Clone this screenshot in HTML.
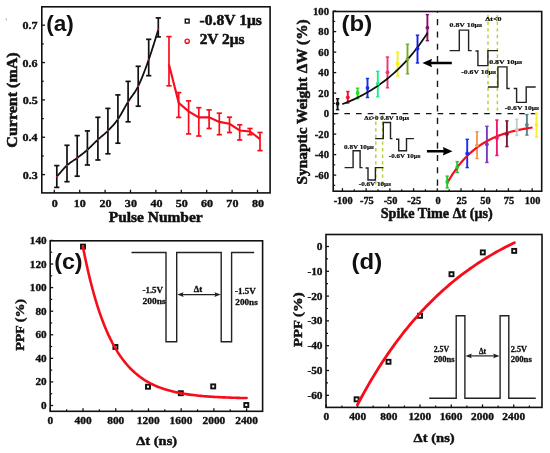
<!DOCTYPE html>
<html><head><meta charset="utf-8"><title>Figure</title>
<style>html,body{margin:0;padding:0;background:#fff;}svg{display:block;}</style></head>
<body><svg width="550" height="453" viewBox="0 0 550 453">
<rect x="0" y="0" width="550" height="453" fill="#fff"/>
<ellipse cx="6.3" cy="19.4" rx="0.6" ry="1.4" fill="#b4baba"/>
<rect x="41.8" y="6.8" width="228.3" height="186.1" fill="none" stroke="#111" stroke-width="1.6"/>
<line x1="41.8" y1="174.6" x2="45" y2="174.6" stroke="#111" stroke-width="1.3" />
<text transform="translate(22.63,178.6) scale(1.1600,1)" font-family="'Liberation Serif','Times New Roman',serif" font-size="10.4" font-weight="bold" fill="#111" stroke="#111" stroke-width="0.364" >0.3</text>
<line x1="41.8" y1="137.25" x2="45" y2="137.25" stroke="#111" stroke-width="1.3" />
<text transform="translate(22.44,141.25) scale(1.1600,1)" font-family="'Liberation Serif','Times New Roman',serif" font-size="10.4" font-weight="bold" fill="#111" stroke="#111" stroke-width="0.364" >0.4</text>
<line x1="41.8" y1="99.9" x2="45" y2="99.9" stroke="#111" stroke-width="1.3" />
<text transform="translate(22.66,103.9) scale(1.1600,1)" font-family="'Liberation Serif','Times New Roman',serif" font-size="10.4" font-weight="bold" fill="#111" stroke="#111" stroke-width="0.364" >0.5</text>
<line x1="41.8" y1="62.55" x2="45" y2="62.55" stroke="#111" stroke-width="1.3" />
<text transform="translate(22.57,66.55) scale(1.1600,1)" font-family="'Liberation Serif','Times New Roman',serif" font-size="10.4" font-weight="bold" fill="#111" stroke="#111" stroke-width="0.364" >0.6</text>
<line x1="41.8" y1="25.2" x2="45" y2="25.2" stroke="#111" stroke-width="1.3" />
<text transform="translate(22.51,29.2) scale(1.1600,1)" font-family="'Liberation Serif','Times New Roman',serif" font-size="10.4" font-weight="bold" fill="#111" stroke="#111" stroke-width="0.364" >0.7</text>
<line x1="41.8" y1="155.93" x2="43.8" y2="155.93" stroke="#111" stroke-width="1.2" />
<line x1="41.8" y1="118.58" x2="43.8" y2="118.58" stroke="#111" stroke-width="1.2" />
<line x1="41.8" y1="81.22" x2="43.8" y2="81.22" stroke="#111" stroke-width="1.2" />
<line x1="41.8" y1="43.87" x2="43.8" y2="43.87" stroke="#111" stroke-width="1.2" />
<line x1="54.3" y1="192.9" x2="54.3" y2="189.7" stroke="#111" stroke-width="1.3" />
<text transform="translate(51.68,206.6) scale(1.1600,1)" font-family="'Liberation Serif','Times New Roman',serif" font-size="10.4" font-weight="bold" fill="#111" stroke="#111" stroke-width="0.364" >0</text>
<line x1="79.7" y1="192.9" x2="79.7" y2="189.7" stroke="#111" stroke-width="1.3" />
<text transform="translate(73.81,206.6) scale(1.1600,1)" font-family="'Liberation Serif','Times New Roman',serif" font-size="10.4" font-weight="bold" fill="#111" stroke="#111" stroke-width="0.364" >10</text>
<line x1="105.1" y1="192.9" x2="105.1" y2="189.7" stroke="#111" stroke-width="1.3" />
<text transform="translate(99.44,206.6) scale(1.1600,1)" font-family="'Liberation Serif','Times New Roman',serif" font-size="10.4" font-weight="bold" fill="#111" stroke="#111" stroke-width="0.364" >20</text>
<line x1="130.5" y1="192.9" x2="130.5" y2="189.7" stroke="#111" stroke-width="1.3" />
<text transform="translate(124.87,206.6) scale(1.1600,1)" font-family="'Liberation Serif','Times New Roman',serif" font-size="10.4" font-weight="bold" fill="#111" stroke="#111" stroke-width="0.364" >30</text>
<line x1="155.9" y1="192.9" x2="155.9" y2="189.7" stroke="#111" stroke-width="1.3" />
<text transform="translate(150.42,206.6) scale(1.1600,1)" font-family="'Liberation Serif','Times New Roman',serif" font-size="10.4" font-weight="bold" fill="#111" stroke="#111" stroke-width="0.364" >40</text>
<line x1="181.3" y1="192.9" x2="181.3" y2="189.7" stroke="#111" stroke-width="1.3" />
<text transform="translate(175.66,206.6) scale(1.1600,1)" font-family="'Liberation Serif','Times New Roman',serif" font-size="10.4" font-weight="bold" fill="#111" stroke="#111" stroke-width="0.364" >50</text>
<line x1="206.7" y1="192.9" x2="206.7" y2="189.7" stroke="#111" stroke-width="1.3" />
<text transform="translate(201.09,206.6) scale(1.1600,1)" font-family="'Liberation Serif','Times New Roman',serif" font-size="10.4" font-weight="bold" fill="#111" stroke="#111" stroke-width="0.364" >60</text>
<line x1="232.1" y1="192.9" x2="232.1" y2="189.7" stroke="#111" stroke-width="1.3" />
<text transform="translate(226.35,206.6) scale(1.1600,1)" font-family="'Liberation Serif','Times New Roman',serif" font-size="10.4" font-weight="bold" fill="#111" stroke="#111" stroke-width="0.364" >70</text>
<line x1="257.5" y1="192.9" x2="257.5" y2="189.7" stroke="#111" stroke-width="1.3" />
<text transform="translate(251.9,206.6) scale(1.1600,1)" font-family="'Liberation Serif','Times New Roman',serif" font-size="10.4" font-weight="bold" fill="#111" stroke="#111" stroke-width="0.364" >80</text>
<text transform="translate(108.74,222) scale(1.0441,1)" font-family="'Liberation Serif','Times New Roman',serif" font-size="14.8" font-weight="bold" fill="#111" stroke="#111" stroke-width="0.518" >Pulse Number</text>
<text transform="translate(17.3,146.9) rotate(-90) translate(-0.78,0) scale(1.0533,1)" font-family="'Liberation Serif','Times New Roman',serif" font-size="15.2" font-weight="bold" fill="#111" stroke="#111" stroke-width="0.532" >Current (mA)</text>
<text transform="translate(46.17,31.3) scale(1.0056,1)" font-family="'Liberation Sans',Arial,sans-serif" font-size="22.5" font-weight="bold" fill="#111" >(a)</text>
<line x1="56.8" y1="165.6" x2="56.8" y2="187.4" stroke="#111" stroke-width="1.7" />
<line x1="54.2" y1="165.6" x2="59.4" y2="165.6" stroke="#111" stroke-width="1.7" />
<line x1="54.2" y1="187.4" x2="59.4" y2="187.4" stroke="#111" stroke-width="1.7" />
<line x1="67" y1="145.3" x2="67" y2="181.7" stroke="#111" stroke-width="1.7" />
<line x1="64.4" y1="145.3" x2="69.6" y2="145.3" stroke="#111" stroke-width="1.7" />
<line x1="64.4" y1="181.7" x2="69.6" y2="181.7" stroke="#111" stroke-width="1.7" />
<line x1="77.2" y1="135.6" x2="77.2" y2="176.2" stroke="#111" stroke-width="1.7" />
<line x1="74.6" y1="135.6" x2="79.8" y2="135.6" stroke="#111" stroke-width="1.7" />
<line x1="74.6" y1="176.2" x2="79.8" y2="176.2" stroke="#111" stroke-width="1.7" />
<line x1="87.4" y1="130.9" x2="87.4" y2="165" stroke="#111" stroke-width="1.7" />
<line x1="84.8" y1="130.9" x2="90" y2="130.9" stroke="#111" stroke-width="1.7" />
<line x1="84.8" y1="165" x2="90" y2="165" stroke="#111" stroke-width="1.7" />
<line x1="97.9" y1="117.3" x2="97.9" y2="160" stroke="#111" stroke-width="1.7" />
<line x1="95.3" y1="117.3" x2="100.5" y2="117.3" stroke="#111" stroke-width="1.7" />
<line x1="95.3" y1="160" x2="100.5" y2="160" stroke="#111" stroke-width="1.7" />
<line x1="107.9" y1="108.4" x2="107.9" y2="153.8" stroke="#111" stroke-width="1.7" />
<line x1="105.3" y1="108.4" x2="110.5" y2="108.4" stroke="#111" stroke-width="1.7" />
<line x1="105.3" y1="153.8" x2="110.5" y2="153.8" stroke="#111" stroke-width="1.7" />
<line x1="117.9" y1="94.9" x2="117.9" y2="143.2" stroke="#111" stroke-width="1.7" />
<line x1="115.3" y1="94.9" x2="120.5" y2="94.9" stroke="#111" stroke-width="1.7" />
<line x1="115.3" y1="143.2" x2="120.5" y2="143.2" stroke="#111" stroke-width="1.7" />
<line x1="128.1" y1="81.4" x2="128.1" y2="121.8" stroke="#111" stroke-width="1.7" />
<line x1="125.5" y1="81.4" x2="130.7" y2="81.4" stroke="#111" stroke-width="1.7" />
<line x1="125.5" y1="121.8" x2="130.7" y2="121.8" stroke="#111" stroke-width="1.7" />
<line x1="138.2" y1="66.3" x2="138.2" y2="106.2" stroke="#111" stroke-width="1.7" />
<line x1="135.6" y1="66.3" x2="140.8" y2="66.3" stroke="#111" stroke-width="1.7" />
<line x1="135.6" y1="106.2" x2="140.8" y2="106.2" stroke="#111" stroke-width="1.7" />
<line x1="148.7" y1="39.3" x2="148.7" y2="75.7" stroke="#111" stroke-width="1.7" />
<line x1="146.1" y1="39.3" x2="151.3" y2="39.3" stroke="#111" stroke-width="1.7" />
<line x1="146.1" y1="75.7" x2="151.3" y2="75.7" stroke="#111" stroke-width="1.7" />
<line x1="158.3" y1="17.9" x2="158.3" y2="36.9" stroke="#111" stroke-width="1.7" />
<line x1="155.7" y1="17.9" x2="160.9" y2="17.9" stroke="#111" stroke-width="1.7" />
<line x1="155.7" y1="36.9" x2="160.9" y2="36.9" stroke="#111" stroke-width="1.7" />
<polyline points="56.8,176.6 57.29,176.05 57.91,175.34 58.63,174.5 59.44,173.56 60.33,172.54 61.26,171.47 62.23,170.37 63.22,169.27 64.21,168.2 65.18,167.18 66.12,166.24 67,165.4 67.85,164.65 68.7,163.94 69.55,163.28 70.4,162.65 71.25,162.04 72.1,161.46 72.95,160.88 73.8,160.31 74.65,159.73 75.5,159.14 76.35,158.53 77.2,157.9 78.05,157.25 78.9,156.61 79.74,155.97 80.59,155.32 81.43,154.67 82.28,154.02 83.13,153.35 83.98,152.68 84.83,151.99 85.68,151.28 86.54,150.55 87.4,149.8 88.27,149.02 89.14,148.21 90.02,147.36 90.9,146.5 91.78,145.63 92.66,144.74 93.55,143.86 94.43,142.97 95.3,142.1 96.18,141.24 97.04,140.41 97.9,139.6 98.75,138.83 99.6,138.08 100.44,137.37 101.27,136.67 102.1,135.98 102.93,135.29 103.76,134.59 104.59,133.89 105.41,133.16 106.24,132.41 107.07,131.63 107.9,130.8 108.73,129.95 109.56,129.1 110.4,128.23 111.23,127.36 112.06,126.46 112.89,125.54 113.72,124.59 114.55,123.6 115.39,122.57 116.22,121.5 117.06,120.38 117.9,119.2 118.74,117.95 119.59,116.61 120.44,115.22 121.29,113.76 122.14,112.27 122.99,110.75 123.85,109.22 124.7,107.68 125.55,106.16 126.4,104.66 127.25,103.21 128.1,101.8 128.94,100.47 129.78,99.22 130.62,98.03 131.46,96.87 132.3,95.72 133.13,94.57 133.97,93.38 134.81,92.14 135.65,90.82 136.49,89.41 137.34,87.88 138.2,86.2 139.06,84.38 139.94,82.46 140.82,80.43 141.7,78.31 142.59,76.11 143.48,73.86 144.37,71.55 145.25,69.2 146.13,66.83 147,64.45 147.86,62.07 148.7,59.7 149.56,57.22 150.46,54.54 151.39,51.72 152.32,48.82 153.25,45.89 154.16,42.99 155.03,40.19 155.84,37.54 156.6,35.09 157.27,32.92 157.84,31.07 158.3,29.6" fill="none" stroke="#111" stroke-width="1.8" stroke-linejoin="miter" />
<circle cx="56.8" cy="176.6" r="0.9" fill="#d0203a"/>
<circle cx="67" cy="165.4" r="0.9" fill="#d0203a"/>
<circle cx="77.2" cy="157.9" r="0.9" fill="#d0203a"/>
<circle cx="87.4" cy="149.8" r="0.9" fill="#d0203a"/>
<circle cx="97.9" cy="139.6" r="0.9" fill="#d0203a"/>
<circle cx="107.9" cy="130.8" r="0.9" fill="#d0203a"/>
<circle cx="117.9" cy="119.2" r="0.9" fill="#d0203a"/>
<circle cx="128.1" cy="101.8" r="0.9" fill="#d0203a"/>
<circle cx="138.2" cy="86.2" r="0.9" fill="#d0203a"/>
<circle cx="148.7" cy="59.7" r="0.9" fill="#d0203a"/>
<circle cx="158.3" cy="29.6" r="0.9" fill="#d0203a"/>
<line x1="169" y1="36.6" x2="169" y2="85.8" stroke="#f80c1c" stroke-width="1.7" />
<line x1="166.4" y1="36.6" x2="171.6" y2="36.6" stroke="#f80c1c" stroke-width="1.7" />
<line x1="166.4" y1="85.8" x2="171.6" y2="85.8" stroke="#f80c1c" stroke-width="1.7" />
<line x1="178.7" y1="92.6" x2="178.7" y2="117.4" stroke="#f80c1c" stroke-width="1.7" />
<line x1="176.1" y1="92.6" x2="181.3" y2="92.6" stroke="#f80c1c" stroke-width="1.7" />
<line x1="176.1" y1="117.4" x2="181.3" y2="117.4" stroke="#f80c1c" stroke-width="1.7" />
<line x1="188.6" y1="100.9" x2="188.6" y2="133.9" stroke="#f80c1c" stroke-width="1.7" />
<line x1="186" y1="100.9" x2="191.2" y2="100.9" stroke="#f80c1c" stroke-width="1.7" />
<line x1="186" y1="133.9" x2="191.2" y2="133.9" stroke="#f80c1c" stroke-width="1.7" />
<line x1="198.8" y1="107.7" x2="198.8" y2="136" stroke="#f80c1c" stroke-width="1.7" />
<line x1="196.2" y1="107.7" x2="201.4" y2="107.7" stroke="#f80c1c" stroke-width="1.7" />
<line x1="196.2" y1="136" x2="201.4" y2="136" stroke="#f80c1c" stroke-width="1.7" />
<line x1="209.1" y1="109.9" x2="209.1" y2="128.5" stroke="#f80c1c" stroke-width="1.7" />
<line x1="206.5" y1="109.9" x2="211.7" y2="109.9" stroke="#f80c1c" stroke-width="1.7" />
<line x1="206.5" y1="128.5" x2="211.7" y2="128.5" stroke="#f80c1c" stroke-width="1.7" />
<line x1="219.3" y1="113.2" x2="219.3" y2="134.7" stroke="#f80c1c" stroke-width="1.7" />
<line x1="216.7" y1="113.2" x2="221.9" y2="113.2" stroke="#f80c1c" stroke-width="1.7" />
<line x1="216.7" y1="134.7" x2="221.9" y2="134.7" stroke="#f80c1c" stroke-width="1.7" />
<line x1="229.5" y1="117.2" x2="229.5" y2="132.5" stroke="#f80c1c" stroke-width="1.7" />
<line x1="226.9" y1="117.2" x2="232.1" y2="117.2" stroke="#f80c1c" stroke-width="1.7" />
<line x1="226.9" y1="132.5" x2="232.1" y2="132.5" stroke="#f80c1c" stroke-width="1.7" />
<line x1="239.7" y1="124.8" x2="239.7" y2="140" stroke="#f80c1c" stroke-width="1.7" />
<line x1="237.1" y1="124.8" x2="242.3" y2="124.8" stroke="#f80c1c" stroke-width="1.7" />
<line x1="237.1" y1="140" x2="242.3" y2="140" stroke="#f80c1c" stroke-width="1.7" />
<line x1="250" y1="128.5" x2="250" y2="134.7" stroke="#f80c1c" stroke-width="1.7" />
<line x1="247.4" y1="128.5" x2="252.6" y2="128.5" stroke="#f80c1c" stroke-width="1.7" />
<line x1="247.4" y1="134.7" x2="252.6" y2="134.7" stroke="#f80c1c" stroke-width="1.7" />
<line x1="260" y1="132.5" x2="260" y2="150.6" stroke="#f80c1c" stroke-width="1.7" />
<line x1="257.4" y1="132.5" x2="262.6" y2="132.5" stroke="#f80c1c" stroke-width="1.7" />
<line x1="257.4" y1="150.6" x2="262.6" y2="150.6" stroke="#f80c1c" stroke-width="1.7" />
<polyline points="169,64.5 178.7,102.8 188.6,111.3 198.8,117.4 209.1,117.4 219.3,121.9 229.5,123.8 239.7,130.5 250,131.4 260,139.1" fill="none" stroke="#f80c1c" stroke-width="2.1" stroke-linejoin="miter" />
<rect x="185.3" y="19.2" width="3.8" height="3.8" fill="none" stroke="#111" stroke-width="1.4"/>
<text transform="translate(199.53,24.6) scale(1.0698,1)" font-family="'Liberation Serif','Times New Roman',serif" font-size="14.6" font-weight="bold" fill="#111" stroke="#111" stroke-width="0.511" >-0.8V 1μs</text>
<circle cx="187.2" cy="41.2" r="2.1" fill="none" stroke="#f80c1c" stroke-width="1.4"/>
<text transform="translate(199.65,43.7) scale(1.0555,1)" font-family="'Liberation Serif','Times New Roman',serif" font-size="14.6" font-weight="bold" fill="#111" stroke="#111" stroke-width="0.511" >2V 2μs</text>
<rect x="333.2" y="11.5" width="208.5" height="179.7" fill="none" stroke="#111" stroke-width="1.6"/>
<line x1="333.2" y1="175.1" x2="336.2" y2="175.1" stroke="#111" stroke-width="1.3" />
<text transform="translate(314.75,178.7) scale(1.0800,1)" font-family="'Liberation Serif','Times New Roman',serif" font-size="9.9" font-weight="bold" fill="#111" stroke="#111" stroke-width="0.346" >-60</text>
<line x1="333.2" y1="154.6" x2="336.2" y2="154.6" stroke="#111" stroke-width="1.3" />
<text transform="translate(314.75,158.2) scale(1.0800,1)" font-family="'Liberation Serif','Times New Roman',serif" font-size="9.9" font-weight="bold" fill="#111" stroke="#111" stroke-width="0.346" >-40</text>
<line x1="333.2" y1="134.1" x2="336.2" y2="134.1" stroke="#111" stroke-width="1.3" />
<text transform="translate(314.75,137.7) scale(1.0800,1)" font-family="'Liberation Serif','Times New Roman',serif" font-size="9.9" font-weight="bold" fill="#111" stroke="#111" stroke-width="0.346" >-20</text>
<line x1="333.2" y1="113.6" x2="336.2" y2="113.6" stroke="#111" stroke-width="1.3" />
<text transform="translate(323.66,117.2) scale(1.0800,1)" font-family="'Liberation Serif','Times New Roman',serif" font-size="9.9" font-weight="bold" fill="#111" stroke="#111" stroke-width="0.346" >0</text>
<line x1="333.2" y1="93.1" x2="336.2" y2="93.1" stroke="#111" stroke-width="1.3" />
<text transform="translate(318.32,96.7) scale(1.0800,1)" font-family="'Liberation Serif','Times New Roman',serif" font-size="9.9" font-weight="bold" fill="#111" stroke="#111" stroke-width="0.346" >20</text>
<line x1="333.2" y1="72.6" x2="336.2" y2="72.6" stroke="#111" stroke-width="1.3" />
<text transform="translate(318.32,76.2) scale(1.0800,1)" font-family="'Liberation Serif','Times New Roman',serif" font-size="9.9" font-weight="bold" fill="#111" stroke="#111" stroke-width="0.346" >40</text>
<line x1="333.2" y1="52.1" x2="336.2" y2="52.1" stroke="#111" stroke-width="1.3" />
<text transform="translate(318.32,55.7) scale(1.0800,1)" font-family="'Liberation Serif','Times New Roman',serif" font-size="9.9" font-weight="bold" fill="#111" stroke="#111" stroke-width="0.346" >60</text>
<line x1="333.2" y1="31.6" x2="336.2" y2="31.6" stroke="#111" stroke-width="1.3" />
<text transform="translate(318.32,35.2) scale(1.0800,1)" font-family="'Liberation Serif','Times New Roman',serif" font-size="9.9" font-weight="bold" fill="#111" stroke="#111" stroke-width="0.346" >80</text>
<line x1="333.2" y1="11.1" x2="336.2" y2="11.1" stroke="#111" stroke-width="1.3" />
<text transform="translate(312.97,14.7) scale(1.0800,1)" font-family="'Liberation Serif','Times New Roman',serif" font-size="9.9" font-weight="bold" fill="#111" stroke="#111" stroke-width="0.346" >100</text>
<line x1="333.2" y1="185.35" x2="335.2" y2="185.35" stroke="#111" stroke-width="1.2" />
<line x1="333.2" y1="164.85" x2="335.2" y2="164.85" stroke="#111" stroke-width="1.2" />
<line x1="333.2" y1="144.35" x2="335.2" y2="144.35" stroke="#111" stroke-width="1.2" />
<line x1="333.2" y1="123.85" x2="335.2" y2="123.85" stroke="#111" stroke-width="1.2" />
<line x1="333.2" y1="103.35" x2="335.2" y2="103.35" stroke="#111" stroke-width="1.2" />
<line x1="333.2" y1="82.85" x2="335.2" y2="82.85" stroke="#111" stroke-width="1.2" />
<line x1="333.2" y1="62.35" x2="335.2" y2="62.35" stroke="#111" stroke-width="1.2" />
<line x1="333.2" y1="41.85" x2="335.2" y2="41.85" stroke="#111" stroke-width="1.2" />
<line x1="333.2" y1="21.35" x2="335.2" y2="21.35" stroke="#111" stroke-width="1.2" />
<line x1="342.45" y1="191.2" x2="342.45" y2="188.2" stroke="#111" stroke-width="1.3" />
<text transform="translate(333.63,203.9) scale(1.0500,1)" font-family="'Liberation Serif','Times New Roman',serif" font-size="9.9" font-weight="bold" fill="#111" stroke="#111" stroke-width="0.346" >-100</text>
<line x1="366.16" y1="191.2" x2="366.16" y2="188.2" stroke="#111" stroke-width="1.3" />
<text transform="translate(359.93,203.9) scale(1.0500,1)" font-family="'Liberation Serif','Times New Roman',serif" font-size="9.9" font-weight="bold" fill="#111" stroke="#111" stroke-width="0.346" >-75</text>
<line x1="389.88" y1="191.2" x2="389.88" y2="188.2" stroke="#111" stroke-width="1.3" />
<text transform="translate(383.65,203.9) scale(1.0500,1)" font-family="'Liberation Serif','Times New Roman',serif" font-size="9.9" font-weight="bold" fill="#111" stroke="#111" stroke-width="0.346" >-50</text>
<line x1="413.59" y1="191.2" x2="413.59" y2="188.2" stroke="#111" stroke-width="1.3" />
<text transform="translate(407.36,203.9) scale(1.0500,1)" font-family="'Liberation Serif','Times New Roman',serif" font-size="9.9" font-weight="bold" fill="#111" stroke="#111" stroke-width="0.346" >-25</text>
<line x1="437.3" y1="191.2" x2="437.3" y2="188.2" stroke="#111" stroke-width="1.3" />
<text transform="translate(435.4,203.9) scale(1.0500,1)" font-family="'Liberation Serif','Times New Roman',serif" font-size="9.9" font-weight="bold" fill="#111" stroke="#111" stroke-width="0.346" >0</text>
<line x1="461.01" y1="191.2" x2="461.01" y2="188.2" stroke="#111" stroke-width="1.3" />
<text transform="translate(456.49,203.9) scale(1.0500,1)" font-family="'Liberation Serif','Times New Roman',serif" font-size="9.9" font-weight="bold" fill="#111" stroke="#111" stroke-width="0.346" >25</text>
<line x1="484.73" y1="191.2" x2="484.73" y2="188.2" stroke="#111" stroke-width="1.3" />
<text transform="translate(480.22,203.9) scale(1.0500,1)" font-family="'Liberation Serif','Times New Roman',serif" font-size="9.9" font-weight="bold" fill="#111" stroke="#111" stroke-width="0.346" >50</text>
<line x1="508.44" y1="191.2" x2="508.44" y2="188.2" stroke="#111" stroke-width="1.3" />
<text transform="translate(503.83,203.9) scale(1.0500,1)" font-family="'Liberation Serif','Times New Roman',serif" font-size="9.9" font-weight="bold" fill="#111" stroke="#111" stroke-width="0.346" >75</text>
<line x1="532.15" y1="191.2" x2="532.15" y2="188.2" stroke="#111" stroke-width="1.3" />
<text transform="translate(524.84,203.9) scale(1.0500,1)" font-family="'Liberation Serif','Times New Roman',serif" font-size="9.9" font-weight="bold" fill="#111" stroke="#111" stroke-width="0.346" >100</text>
<line x1="354.31" y1="191.2" x2="354.31" y2="189.2" stroke="#111" stroke-width="1.2" />
<line x1="378.02" y1="191.2" x2="378.02" y2="189.2" stroke="#111" stroke-width="1.2" />
<line x1="401.73" y1="191.2" x2="401.73" y2="189.2" stroke="#111" stroke-width="1.2" />
<line x1="425.44" y1="191.2" x2="425.44" y2="189.2" stroke="#111" stroke-width="1.2" />
<line x1="449.16" y1="191.2" x2="449.16" y2="189.2" stroke="#111" stroke-width="1.2" />
<line x1="472.87" y1="191.2" x2="472.87" y2="189.2" stroke="#111" stroke-width="1.2" />
<line x1="496.58" y1="191.2" x2="496.58" y2="189.2" stroke="#111" stroke-width="1.2" />
<line x1="520.29" y1="191.2" x2="520.29" y2="189.2" stroke="#111" stroke-width="1.2" />
<text transform="translate(380.64,218.3) scale(0.9928,1)" font-family="'Liberation Serif','Times New Roman',serif" font-size="14.3" font-weight="bold" fill="#111" stroke="#111" stroke-width="0.500" >Spike Time Δt (μs)</text>
<text transform="translate(307.2,183.6) rotate(-90) translate(-0.81,0) scale(1.0342,1)" font-family="'Liberation Serif','Times New Roman',serif" font-size="14.8" font-weight="bold" fill="#111" stroke="#111" stroke-width="0.518" >Synaptic Weight ΔW (%)</text>
<text transform="translate(341.61,31.2) scale(1.0888,1)" font-family="'Liberation Sans',Arial,sans-serif" font-size="22.0" font-weight="bold" fill="#111" >(b)</text>
<line x1="334" y1="113.6" x2="541" y2="113.6" stroke="#111" stroke-width="1.4" stroke-dasharray="5.6 6.05" stroke-dashoffset="1.25"/>
<line x1="437.5" y1="12" x2="437.5" y2="190" stroke="#15152a" stroke-width="1.4" stroke-dasharray="6.1 6.25" stroke-dashoffset="5.3"/>
<line x1="337.6" y1="98.7" x2="337.6" y2="109.7" stroke="#111111" stroke-width="1.9" />
<line x1="335.9" y1="98.7" x2="339.3" y2="98.7" stroke="#111111" stroke-width="1.4" />
<line x1="335.9" y1="109.7" x2="339.3" y2="109.7" stroke="#111111" stroke-width="1.4" />
<line x1="347.8" y1="91.5" x2="347.8" y2="103" stroke="#f0102a" stroke-width="1.9" />
<line x1="346.1" y1="91.5" x2="349.5" y2="91.5" stroke="#f0102a" stroke-width="1.4" />
<line x1="346.1" y1="103" x2="349.5" y2="103" stroke="#f0102a" stroke-width="1.4" />
<line x1="357.6" y1="88.2" x2="357.6" y2="98.7" stroke="#22dd22" stroke-width="1.9" />
<line x1="355.9" y1="88.2" x2="359.3" y2="88.2" stroke="#22dd22" stroke-width="1.4" />
<line x1="355.9" y1="98.7" x2="359.3" y2="98.7" stroke="#22dd22" stroke-width="1.4" />
<line x1="367.5" y1="78.5" x2="367.5" y2="97.5" stroke="#1530f0" stroke-width="1.9" />
<line x1="365.8" y1="78.5" x2="369.2" y2="78.5" stroke="#1530f0" stroke-width="1.4" />
<line x1="365.8" y1="97.5" x2="369.2" y2="97.5" stroke="#1530f0" stroke-width="1.4" />
<line x1="377.8" y1="71.3" x2="377.8" y2="96.8" stroke="#18f090" stroke-width="1.9" />
<line x1="376.1" y1="71.3" x2="379.5" y2="71.3" stroke="#18f090" stroke-width="1.4" />
<line x1="376.1" y1="96.8" x2="379.5" y2="96.8" stroke="#18f090" stroke-width="1.4" />
<line x1="387.5" y1="57" x2="387.5" y2="87.8" stroke="#f0307a" stroke-width="1.9" />
<line x1="385.8" y1="57" x2="389.2" y2="57" stroke="#f0307a" stroke-width="1.4" />
<line x1="385.8" y1="87.8" x2="389.2" y2="87.8" stroke="#f0307a" stroke-width="1.4" />
<line x1="397.6" y1="52.1" x2="397.6" y2="76" stroke="#f4f020" stroke-width="1.9" />
<line x1="395.9" y1="52.1" x2="399.3" y2="52.1" stroke="#f4f020" stroke-width="1.4" />
<line x1="395.9" y1="76" x2="399.3" y2="76" stroke="#f4f020" stroke-width="1.4" />
<line x1="407.5" y1="44.2" x2="407.5" y2="73.8" stroke="#78a828" stroke-width="1.9" />
<line x1="405.8" y1="44.2" x2="409.2" y2="44.2" stroke="#78a828" stroke-width="1.4" />
<line x1="405.8" y1="73.8" x2="409.2" y2="73.8" stroke="#78a828" stroke-width="1.4" />
<line x1="417.5" y1="35.2" x2="417.5" y2="63" stroke="#1020f0" stroke-width="1.9" />
<line x1="415.8" y1="35.2" x2="419.2" y2="35.2" stroke="#1020f0" stroke-width="1.4" />
<line x1="415.8" y1="63" x2="419.2" y2="63" stroke="#1020f0" stroke-width="1.4" />
<line x1="427.4" y1="14.6" x2="427.4" y2="40.7" stroke="#8a1068" stroke-width="1.9" />
<line x1="425.7" y1="14.6" x2="429.1" y2="14.6" stroke="#8a1068" stroke-width="1.4" />
<line x1="425.7" y1="40.7" x2="429.1" y2="40.7" stroke="#8a1068" stroke-width="1.4" />
<polyline points="342.3,104.2 344.04,103.53 345.78,102.84 347.52,102.13 349.26,101.39 351,100.64 352.74,99.86 354.49,99.06 356.23,98.24 357.97,97.39 359.71,96.52 361.45,95.63 363.19,94.7 364.93,93.75 366.67,92.77 368.41,91.77 370.15,90.73 371.89,89.66 373.63,88.57 375.38,87.44 377.12,86.27 378.86,85.08 380.6,83.84 382.34,82.58 384.08,81.27 385.82,79.93 387.56,78.54 389.3,77.12 391.04,75.65 392.78,74.15 394.52,72.59 396.27,71 398.01,69.35 399.75,67.66 401.49,65.92 403.23,64.12 404.97,62.28 406.71,60.38 408.45,58.42 410.19,56.41 411.93,54.34 413.67,52.2 415.41,50.01 417.16,47.75 418.9,45.42 420.64,43.03 422.38,40.57 424.12,38.03 425.86,35.42 427.6,32.73" fill="none" stroke="#111" stroke-width="1.8" stroke-linejoin="miter" />
<circle cx="337.6" cy="103.7" r="1.9" fill="#111111"/>
<circle cx="347.8" cy="97.3" r="1.9" fill="#f0102a"/>
<circle cx="357.6" cy="92.9" r="1.9" fill="#22dd22"/>
<circle cx="367.5" cy="88" r="1.9" fill="#1530f0"/>
<circle cx="377.8" cy="83.6" r="1.9" fill="#18f090"/>
<circle cx="387.5" cy="72.3" r="1.9" fill="#f0307a"/>
<circle cx="397.6" cy="63.7" r="1.9" fill="#f4f020"/>
<circle cx="407.5" cy="59.1" r="1.9" fill="#78a828"/>
<circle cx="417.5" cy="48.5" r="1.9" fill="#1020f0"/>
<circle cx="427.4" cy="27.7" r="1.9" fill="#8a1068"/>
<line x1="447.2" y1="176.1" x2="447.2" y2="187.9" stroke="#20c830" stroke-width="1.9" />
<line x1="445.5" y1="176.1" x2="448.9" y2="176.1" stroke="#20c830" stroke-width="1.4" />
<line x1="445.5" y1="187.9" x2="448.9" y2="187.9" stroke="#20c830" stroke-width="1.4" />
<line x1="457.2" y1="161.6" x2="457.2" y2="172.5" stroke="#20c830" stroke-width="1.9" />
<line x1="455.5" y1="161.6" x2="458.9" y2="161.6" stroke="#20c830" stroke-width="1.4" />
<line x1="455.5" y1="172.5" x2="458.9" y2="172.5" stroke="#20c830" stroke-width="1.4" />
<line x1="467.2" y1="139.3" x2="467.2" y2="167.6" stroke="#1530f0" stroke-width="1.9" />
<line x1="465.5" y1="139.3" x2="468.9" y2="139.3" stroke="#1530f0" stroke-width="1.4" />
<line x1="465.5" y1="167.6" x2="468.9" y2="167.6" stroke="#1530f0" stroke-width="1.4" />
<line x1="477" y1="131.7" x2="477" y2="158.6" stroke="#f89858" stroke-width="1.9" />
<line x1="475.3" y1="131.7" x2="478.7" y2="131.7" stroke="#f89858" stroke-width="1.4" />
<line x1="475.3" y1="158.6" x2="478.7" y2="158.6" stroke="#f89858" stroke-width="1.4" />
<line x1="486.9" y1="126.3" x2="486.9" y2="162.5" stroke="#7838c8" stroke-width="1.9" />
<line x1="485.2" y1="126.3" x2="488.6" y2="126.3" stroke="#7838c8" stroke-width="1.4" />
<line x1="485.2" y1="162.5" x2="488.6" y2="162.5" stroke="#7838c8" stroke-width="1.4" />
<line x1="496.9" y1="120" x2="496.9" y2="155.5" stroke="#f01870" stroke-width="1.9" />
<line x1="495.2" y1="120" x2="498.6" y2="120" stroke="#f01870" stroke-width="1.4" />
<line x1="495.2" y1="155.5" x2="498.6" y2="155.5" stroke="#f01870" stroke-width="1.4" />
<line x1="506.9" y1="120.9" x2="506.9" y2="146.6" stroke="#781838" stroke-width="1.9" />
<line x1="505.2" y1="120.9" x2="508.6" y2="120.9" stroke="#781838" stroke-width="1.4" />
<line x1="505.2" y1="146.6" x2="508.6" y2="146.6" stroke="#781838" stroke-width="1.4" />
<line x1="516.8" y1="119.2" x2="516.8" y2="135.5" stroke="#c4ccd0" stroke-width="1.9" />
<line x1="515.1" y1="119.2" x2="518.5" y2="119.2" stroke="#c4ccd0" stroke-width="1.4" />
<line x1="515.1" y1="135.5" x2="518.5" y2="135.5" stroke="#c4ccd0" stroke-width="1.4" />
<line x1="526.9" y1="114.6" x2="526.9" y2="135.1" stroke="#608088" stroke-width="1.9" />
<line x1="525.2" y1="114.6" x2="528.6" y2="114.6" stroke="#608088" stroke-width="1.4" />
<line x1="525.2" y1="135.1" x2="528.6" y2="135.1" stroke="#608088" stroke-width="1.4" />
<line x1="536.5" y1="113.2" x2="536.5" y2="137.1" stroke="#f8f028" stroke-width="1.9" />
<line x1="534.8" y1="113.2" x2="538.2" y2="113.2" stroke="#f8f028" stroke-width="1.4" />
<line x1="534.8" y1="137.1" x2="538.2" y2="137.1" stroke="#f8f028" stroke-width="1.4" />
<polyline points="447.2,183.25 448.94,180.16 450.69,177.23 452.43,174.45 454.17,171.81 455.91,169.31 457.66,166.93 459.4,164.68 461.14,162.54 462.89,160.51 464.63,158.59 466.37,156.76 468.11,155.03 469.86,153.39 471.6,151.83 473.34,150.35 475.09,148.95 476.83,147.61 478.57,146.35 480.31,145.15 482.06,144.01 483.8,142.93 485.54,141.91 487.29,140.94 489.03,140.02 490.77,139.14 492.51,138.31 494.26,137.52 496,136.78 497.74,136.07 499.49,135.4 501.23,134.76 502.97,134.15 504.71,133.58 506.46,133.03 508.2,132.52 509.94,132.03 511.69,131.56 513.43,131.12 515.17,130.7 516.91,130.3 518.66,129.93 520.4,129.57 522.14,129.23 523.89,128.91 525.63,128.6 527.37,128.31 529.11,128.03 530.86,127.77 532.6,127.53" fill="none" stroke="#f51020" stroke-width="2.2" stroke-linejoin="miter" />
<circle cx="447.2" cy="181.9" r="1.9" fill="#20c830"/>
<circle cx="457.2" cy="167.1" r="1.9" fill="#20c830"/>
<circle cx="467.2" cy="153.5" r="1.9" fill="#1530f0"/>
<circle cx="477" cy="145.3" r="1.9" fill="#f89858"/>
<circle cx="486.9" cy="144.3" r="1.9" fill="#7838c8"/>
<circle cx="496.9" cy="137.9" r="1.9" fill="#f01870"/>
<circle cx="506.9" cy="134.1" r="1.9" fill="#781838"/>
<circle cx="516.8" cy="129.6" r="1.9" fill="#c4ccd0"/>
<circle cx="526.9" cy="124.9" r="1.9" fill="#608088"/>
<circle cx="536.5" cy="124.9" r="1.9" fill="#f8f028"/>
<path d="M451.8,61.8 L431.2,61.8 L432,58.7 L422.4,63 L432,67.3 L431.2,64.2 L451.8,64.2 Z" fill="#000"/>
<path d="M426.9,150.1 L443.6,150.1 L442.9,147.1 L452.5,151.3 L442.9,155.5 L443.6,152.5 L426.9,152.5 Z" fill="#000"/>
<line x1="488.0" y1="15" x2="488.0" y2="111" stroke="#b2d63a" stroke-width="1.5" stroke-dasharray="3.4 3.2"/>
<line x1="497.4" y1="15" x2="497.4" y2="111" stroke="#b2d63a" stroke-width="1.5" stroke-dasharray="3.4 3.2"/>
<polyline points="449.6,50.6 459.3,50.6 459.3,30.1 468.6,30.1 468.6,50.6 471.7,50.6" fill="none" stroke="#222" stroke-width="1.4" stroke-linejoin="miter" />
<polyline points="475.5,51 477.9,51 477.9,65.6 487.9,65.6 487.9,50.6 498,50.6" fill="none" stroke="#222" stroke-width="1.4" stroke-linejoin="miter" />
<polyline points="487.9,87 497.9,87 497.9,66.9 507,66.9 507,88.5 509.8,88.5" fill="none" stroke="#222" stroke-width="1.4" stroke-linejoin="miter" />
<polyline points="513.7,88.5 516.6,88.5 516.6,102.4 526.2,102.4 526.2,87 535.7,87" fill="none" stroke="#222" stroke-width="1.4" stroke-linejoin="miter" />
<text transform="translate(449.6,26.7) scale(1.1177,1)" font-family="'Liberation Serif','Times New Roman',serif" font-size="7.0" font-weight="bold" fill="#111" stroke="#111" stroke-width="0.245" >0.8V 10μs</text>
<text transform="translate(485.19,20.5) scale(1.1483,1)" font-family="'Liberation Serif','Times New Roman',serif" font-size="7.0" font-weight="bold" fill="#111" stroke="#111" stroke-width="0.245" >Δt&lt;0</text>
<text transform="translate(461.22,74) scale(1.1075,1)" font-family="'Liberation Serif','Times New Roman',serif" font-size="7.0" font-weight="bold" fill="#111" stroke="#111" stroke-width="0.245" >-0.6V 10μs</text>
<text transform="translate(489.2,63.8) scale(1.1281,1)" font-family="'Liberation Serif','Times New Roman',serif" font-size="7.0" font-weight="bold" fill="#111" stroke="#111" stroke-width="0.245" >0.8V 10μs</text>
<text transform="translate(504.82,110) scale(1.0914,1)" font-family="'Liberation Serif','Times New Roman',serif" font-size="7.0" font-weight="bold" fill="#111" stroke="#111" stroke-width="0.245" >-0.6V 10μs</text>
<line x1="375.8" y1="115" x2="375.8" y2="188" stroke="#b2d63a" stroke-width="1.5" stroke-dasharray="3.4 3.2"/>
<line x1="382.6" y1="115" x2="382.6" y2="188" stroke="#b2d63a" stroke-width="1.5" stroke-dasharray="3.4 3.2"/>
<polyline points="375.2,138.6 383.3,138.6 383.3,122.5 390.5,122.5 390.5,138.6 392.5,138.6" fill="none" stroke="#222" stroke-width="1.4" stroke-linejoin="miter" />
<polyline points="396,139.3 398.7,139.3 398.7,150.8 406.5,150.8 406.5,138.6 413.9,138.6" fill="none" stroke="#222" stroke-width="1.4" stroke-linejoin="miter" />
<polyline points="344.6,167.6 353.1,167.6 353.1,150.8 360.1,150.8 360.1,167.6 362.6,167.6" fill="none" stroke="#222" stroke-width="1.4" stroke-linejoin="miter" />
<polyline points="365.6,168 368,168 368,180 375.4,180 375.4,167.6 383.4,167.6" fill="none" stroke="#222" stroke-width="1.4" stroke-linejoin="miter" />
<text transform="translate(364.3,120) scale(0.9969,1)" font-family="'Liberation Serif','Times New Roman',serif" font-size="7.0" font-weight="bold" fill="#111" stroke="#111" stroke-width="0.245" >Δt&gt;0 0.8V 10μs</text>
<text transform="translate(388.84,158) scale(1.0048,1)" font-family="'Liberation Serif','Times New Roman',serif" font-size="7.0" font-weight="bold" fill="#111" stroke="#111" stroke-width="0.245" >-0.6V 10μs</text>
<text transform="translate(344.03,149) scale(1.0205,1)" font-family="'Liberation Serif','Times New Roman',serif" font-size="7.0" font-weight="bold" fill="#111" stroke="#111" stroke-width="0.245" >0.8V 10μs</text>
<text transform="translate(358.74,186.4) scale(1.0272,1)" font-family="'Liberation Serif','Times New Roman',serif" font-size="7.0" font-weight="bold" fill="#111" stroke="#111" stroke-width="0.245" >-0.6V 10μs</text>
<rect x="50.2" y="240.8" width="212.4" height="170.5" fill="none" stroke="#111" stroke-width="1.6"/>
<line x1="50.2" y1="405.5" x2="53.2" y2="405.5" stroke="#111" stroke-width="1.3" />
<text transform="translate(41.03,409) scale(1.1200,1)" font-family="'Liberation Serif','Times New Roman',serif" font-size="10.0" font-weight="bold" fill="#111" stroke="#111" stroke-width="0.350" >0</text>
<line x1="50.2" y1="381.92" x2="53.2" y2="381.92" stroke="#111" stroke-width="1.3" />
<text transform="translate(35.43,385.42) scale(1.1200,1)" font-family="'Liberation Serif','Times New Roman',serif" font-size="10.0" font-weight="bold" fill="#111" stroke="#111" stroke-width="0.350" >20</text>
<line x1="50.2" y1="358.34" x2="53.2" y2="358.34" stroke="#111" stroke-width="1.3" />
<text transform="translate(35.43,361.84) scale(1.1200,1)" font-family="'Liberation Serif','Times New Roman',serif" font-size="10.0" font-weight="bold" fill="#111" stroke="#111" stroke-width="0.350" >40</text>
<line x1="50.2" y1="334.76" x2="53.2" y2="334.76" stroke="#111" stroke-width="1.3" />
<text transform="translate(35.43,338.26) scale(1.1200,1)" font-family="'Liberation Serif','Times New Roman',serif" font-size="10.0" font-weight="bold" fill="#111" stroke="#111" stroke-width="0.350" >60</text>
<line x1="50.2" y1="311.18" x2="53.2" y2="311.18" stroke="#111" stroke-width="1.3" />
<text transform="translate(35.43,314.68) scale(1.1200,1)" font-family="'Liberation Serif','Times New Roman',serif" font-size="10.0" font-weight="bold" fill="#111" stroke="#111" stroke-width="0.350" >80</text>
<line x1="50.2" y1="287.6" x2="53.2" y2="287.6" stroke="#111" stroke-width="1.3" />
<text transform="translate(29.83,291.1) scale(1.1200,1)" font-family="'Liberation Serif','Times New Roman',serif" font-size="10.0" font-weight="bold" fill="#111" stroke="#111" stroke-width="0.350" >100</text>
<line x1="50.2" y1="264.02" x2="53.2" y2="264.02" stroke="#111" stroke-width="1.3" />
<text transform="translate(29.83,267.52) scale(1.1200,1)" font-family="'Liberation Serif','Times New Roman',serif" font-size="10.0" font-weight="bold" fill="#111" stroke="#111" stroke-width="0.350" >120</text>
<line x1="50.2" y1="240.44" x2="53.2" y2="240.44" stroke="#111" stroke-width="1.3" />
<text transform="translate(29.83,243.94) scale(1.1200,1)" font-family="'Liberation Serif','Times New Roman',serif" font-size="10.0" font-weight="bold" fill="#111" stroke="#111" stroke-width="0.350" >140</text>
<line x1="50.2" y1="393.71" x2="52.2" y2="393.71" stroke="#111" stroke-width="1.2" />
<line x1="50.2" y1="370.13" x2="52.2" y2="370.13" stroke="#111" stroke-width="1.2" />
<line x1="50.2" y1="346.55" x2="52.2" y2="346.55" stroke="#111" stroke-width="1.2" />
<line x1="50.2" y1="322.97" x2="52.2" y2="322.97" stroke="#111" stroke-width="1.2" />
<line x1="50.2" y1="299.39" x2="52.2" y2="299.39" stroke="#111" stroke-width="1.2" />
<line x1="50.2" y1="275.81" x2="52.2" y2="275.81" stroke="#111" stroke-width="1.2" />
<line x1="50.2" y1="252.23" x2="52.2" y2="252.23" stroke="#111" stroke-width="1.2" />
<line x1="50.3" y1="411.3" x2="50.3" y2="408.3" stroke="#111" stroke-width="1.3" />
<text transform="translate(47.45,423.6) scale(1.1400,1)" font-family="'Liberation Serif','Times New Roman',serif" font-size="10.0" font-weight="bold" fill="#111" stroke="#111" stroke-width="0.350" >0</text>
<line x1="83.02" y1="411.3" x2="83.02" y2="408.3" stroke="#111" stroke-width="1.3" />
<text transform="translate(74.61,423.6) scale(1.1400,1)" font-family="'Liberation Serif','Times New Roman',serif" font-size="10.0" font-weight="bold" fill="#111" stroke="#111" stroke-width="0.350" >400</text>
<line x1="115.74" y1="411.3" x2="115.74" y2="408.3" stroke="#111" stroke-width="1.3" />
<text transform="translate(107.22,423.6) scale(1.1400,1)" font-family="'Liberation Serif','Times New Roman',serif" font-size="10.0" font-weight="bold" fill="#111" stroke="#111" stroke-width="0.350" >800</text>
<line x1="148.46" y1="411.3" x2="148.46" y2="408.3" stroke="#111" stroke-width="1.3" />
<text transform="translate(136.82,423.6) scale(1.1400,1)" font-family="'Liberation Serif','Times New Roman',serif" font-size="10.0" font-weight="bold" fill="#111" stroke="#111" stroke-width="0.350" >1200</text>
<line x1="181.18" y1="411.3" x2="181.18" y2="408.3" stroke="#111" stroke-width="1.3" />
<text transform="translate(169.54,423.6) scale(1.1400,1)" font-family="'Liberation Serif','Times New Roman',serif" font-size="10.0" font-weight="bold" fill="#111" stroke="#111" stroke-width="0.350" >1600</text>
<line x1="213.9" y1="411.3" x2="213.9" y2="408.3" stroke="#111" stroke-width="1.3" />
<text transform="translate(202.48,423.6) scale(1.1400,1)" font-family="'Liberation Serif','Times New Roman',serif" font-size="10.0" font-weight="bold" fill="#111" stroke="#111" stroke-width="0.350" >2000</text>
<line x1="246.62" y1="411.3" x2="246.62" y2="408.3" stroke="#111" stroke-width="1.3" />
<text transform="translate(235.2,423.6) scale(1.1400,1)" font-family="'Liberation Serif','Times New Roman',serif" font-size="10.0" font-weight="bold" fill="#111" stroke="#111" stroke-width="0.350" >2400</text>
<line x1="66.66" y1="411.3" x2="66.66" y2="409.3" stroke="#111" stroke-width="1.2" />
<line x1="99.38" y1="411.3" x2="99.38" y2="409.3" stroke="#111" stroke-width="1.2" />
<line x1="132.1" y1="411.3" x2="132.1" y2="409.3" stroke="#111" stroke-width="1.2" />
<line x1="164.82" y1="411.3" x2="164.82" y2="409.3" stroke="#111" stroke-width="1.2" />
<line x1="197.54" y1="411.3" x2="197.54" y2="409.3" stroke="#111" stroke-width="1.2" />
<line x1="230.26" y1="411.3" x2="230.26" y2="409.3" stroke="#111" stroke-width="1.2" />
<text transform="translate(136.3,444.5) scale(1.0721,1)" font-family="'Liberation Serif','Times New Roman',serif" font-size="13.5" font-weight="bold" fill="#111" stroke="#111" stroke-width="0.472" >Δt (ns)</text>
<text transform="translate(23.5,350.6) rotate(-90) translate(-0.24,0) scale(1.1470,1)" font-family="'Liberation Serif','Times New Roman',serif" font-size="12.2" font-weight="bold" fill="#111" stroke="#111" stroke-width="0.427" >PPF (%)</text>
<text transform="translate(54.14,268.6) scale(1.0609,1)" font-family="'Liberation Sans',Arial,sans-serif" font-size="22.0" font-weight="bold" fill="#111" >(c)</text>
<polyline points="131.5,252.5 166,252.5 166,341.7 176.7,341.7 176.7,252.5 221.2,252.5 221.2,341.7 231.6,341.7 231.6,252.5 254.2,252.5" fill="none" stroke="#222" stroke-width="1.4" stroke-linejoin="miter" />
<line x1="181" y1="294.6" x2="217" y2="294.6" stroke="#222" stroke-width="1.2"/>
<path d="M177.2,294.6 L183.6,292.3 L182.6,294.6 L183.6,296.9 Z" fill="#222"/>
<path d="M220.8,294.6 L214.4,292.3 L215.4,294.6 L214.4,296.9 Z" fill="#222"/>
<text transform="translate(142.47,292.5) scale(1.0859,1)" font-family="'Liberation Serif','Times New Roman',serif" font-size="8.2" font-weight="bold" fill="#111" stroke="#111" stroke-width="0.287" >-1.5V</text>
<text transform="translate(142.4,303.7) scale(1.1637,1)" font-family="'Liberation Serif','Times New Roman',serif" font-size="8.2" font-weight="bold" fill="#111" stroke="#111" stroke-width="0.287" >200ns</text>
<text transform="translate(193.78,291.6) scale(1.0746,1)" font-family="'Liberation Serif','Times New Roman',serif" font-size="8.2" font-weight="bold" fill="#111" stroke="#111" stroke-width="0.287" >Δt</text>
<text transform="translate(235.07,293.9) scale(1.0967,1)" font-family="'Liberation Serif','Times New Roman',serif" font-size="8.2" font-weight="bold" fill="#111" stroke="#111" stroke-width="0.287" >-1.5V</text>
<text transform="translate(235.32,304.5) scale(1.1175,1)" font-family="'Liberation Serif','Times New Roman',serif" font-size="8.2" font-weight="bold" fill="#111" stroke="#111" stroke-width="0.287" >200ns</text>
<rect x="81" y="244.6" width="4.0" height="4.0" fill="none" stroke="#111" stroke-width="1.9"/>
<rect x="113.4" y="345" width="4.0" height="4.0" fill="none" stroke="#111" stroke-width="1.9"/>
<rect x="146" y="384.7" width="4.0" height="4.0" fill="none" stroke="#111" stroke-width="1.9"/>
<rect x="178.8" y="391.2" width="4.0" height="4.0" fill="none" stroke="#111" stroke-width="1.9"/>
<rect x="211.2" y="384.4" width="4.0" height="4.0" fill="none" stroke="#111" stroke-width="1.9"/>
<rect x="244.3" y="403" width="4.0" height="4.0" fill="none" stroke="#111" stroke-width="1.9"/>
<polyline points="82.9,246.74 84.74,255.95 86.58,264.6 88.42,272.72 90.26,280.35 92.1,287.52 93.94,294.26 95.78,300.59 97.61,306.53 99.45,312.11 101.29,317.36 103.13,322.28 104.97,326.91 106.81,331.26 108.65,335.35 110.49,339.18 112.33,342.79 114.17,346.17 116.01,349.35 117.85,352.34 119.69,355.15 121.53,357.78 123.37,360.26 125.2,362.59 127.04,364.77 128.88,366.82 130.72,368.75 132.56,370.56 134.4,372.27 136.24,373.87 138.08,375.37 139.92,376.78 141.76,378.1 143.6,379.35 145.44,380.52 147.28,381.62 149.12,382.65 150.96,383.62 152.79,384.53 154.63,385.38 156.47,386.19 158.31,386.94 160.15,387.65 161.99,388.32 163.83,388.94 165.67,389.53 167.51,390.08 169.35,390.6 171.19,391.09 173.03,391.55 174.87,391.98 176.71,392.38 178.54,392.76 180.38,393.12 182.22,393.45 184.06,393.77 185.9,394.06 187.74,394.34 189.58,394.6 191.42,394.85 193.26,395.08 195.1,395.29 196.94,395.5 198.78,395.69 200.62,395.87 202.46,396.03 204.3,396.19 206.13,396.34 207.97,396.48 209.81,396.61 211.65,396.73 213.49,396.85 215.33,396.96 217.17,397.06 219.01,397.16 220.85,397.25 222.69,397.33 224.53,397.41 226.37,397.49 228.21,397.56 230.05,397.62 231.89,397.68 233.72,397.74 235.56,397.8 237.4,397.85 239.24,397.9 241.08,397.94 242.92,397.98 244.76,398.02 246.6,398.06" fill="none" stroke="#f70d1a" stroke-width="2.6" stroke-linejoin="miter" stroke-linecap="round"/>
<rect x="326" y="234.5" width="216" height="172.9" fill="none" stroke="#111" stroke-width="1.6"/>
<line x1="326" y1="246.5" x2="329" y2="246.5" stroke="#111" stroke-width="1.3" />
<text transform="translate(316.85,250) scale(1.1600,1)" font-family="'Liberation Serif','Times New Roman',serif" font-size="9.8" font-weight="bold" fill="#111" stroke="#111" stroke-width="0.343" >0</text>
<line x1="326" y1="271.3" x2="329" y2="271.3" stroke="#111" stroke-width="1.3" />
<text transform="translate(307.38,274.8) scale(1.1600,1)" font-family="'Liberation Serif','Times New Roman',serif" font-size="9.8" font-weight="bold" fill="#111" stroke="#111" stroke-width="0.343" >-10</text>
<line x1="326" y1="296.1" x2="329" y2="296.1" stroke="#111" stroke-width="1.3" />
<text transform="translate(307.38,299.6) scale(1.1600,1)" font-family="'Liberation Serif','Times New Roman',serif" font-size="9.8" font-weight="bold" fill="#111" stroke="#111" stroke-width="0.343" >-20</text>
<line x1="326" y1="320.9" x2="329" y2="320.9" stroke="#111" stroke-width="1.3" />
<text transform="translate(307.38,324.4) scale(1.1600,1)" font-family="'Liberation Serif','Times New Roman',serif" font-size="9.8" font-weight="bold" fill="#111" stroke="#111" stroke-width="0.343" >-30</text>
<line x1="326" y1="345.7" x2="329" y2="345.7" stroke="#111" stroke-width="1.3" />
<text transform="translate(307.38,349.2) scale(1.1600,1)" font-family="'Liberation Serif','Times New Roman',serif" font-size="9.8" font-weight="bold" fill="#111" stroke="#111" stroke-width="0.343" >-40</text>
<line x1="326" y1="370.5" x2="329" y2="370.5" stroke="#111" stroke-width="1.3" />
<text transform="translate(307.38,374) scale(1.1600,1)" font-family="'Liberation Serif','Times New Roman',serif" font-size="9.8" font-weight="bold" fill="#111" stroke="#111" stroke-width="0.343" >-50</text>
<line x1="326" y1="395.3" x2="329" y2="395.3" stroke="#111" stroke-width="1.3" />
<text transform="translate(307.38,398.8) scale(1.1600,1)" font-family="'Liberation Serif','Times New Roman',serif" font-size="9.8" font-weight="bold" fill="#111" stroke="#111" stroke-width="0.343" >-60</text>
<line x1="326" y1="258.9" x2="328" y2="258.9" stroke="#111" stroke-width="1.2" />
<line x1="326" y1="283.7" x2="328" y2="283.7" stroke="#111" stroke-width="1.2" />
<line x1="326" y1="308.5" x2="328" y2="308.5" stroke="#111" stroke-width="1.2" />
<line x1="326" y1="333.3" x2="328" y2="333.3" stroke="#111" stroke-width="1.2" />
<line x1="326" y1="358.1" x2="328" y2="358.1" stroke="#111" stroke-width="1.2" />
<line x1="326" y1="382.9" x2="328" y2="382.9" stroke="#111" stroke-width="1.2" />
<line x1="326.3" y1="407.4" x2="326.3" y2="404.4" stroke="#111" stroke-width="1.3" />
<text transform="translate(323.46,419.9) scale(1.1600,1)" font-family="'Liberation Serif','Times New Roman',serif" font-size="9.8" font-weight="bold" fill="#111" stroke="#111" stroke-width="0.343" >0</text>
<line x1="357.54" y1="407.4" x2="357.54" y2="404.4" stroke="#111" stroke-width="1.3" />
<text transform="translate(349.15,419.9) scale(1.1600,1)" font-family="'Liberation Serif','Times New Roman',serif" font-size="9.8" font-weight="bold" fill="#111" stroke="#111" stroke-width="0.343" >400</text>
<line x1="388.78" y1="407.4" x2="388.78" y2="404.4" stroke="#111" stroke-width="1.3" />
<text transform="translate(380.28,419.9) scale(1.1600,1)" font-family="'Liberation Serif','Times New Roman',serif" font-size="9.8" font-weight="bold" fill="#111" stroke="#111" stroke-width="0.343" >800</text>
<line x1="420.02" y1="407.4" x2="420.02" y2="404.4" stroke="#111" stroke-width="1.3" />
<text transform="translate(408.41,419.9) scale(1.1600,1)" font-family="'Liberation Serif','Times New Roman',serif" font-size="9.8" font-weight="bold" fill="#111" stroke="#111" stroke-width="0.343" >1200</text>
<line x1="451.26" y1="407.4" x2="451.26" y2="404.4" stroke="#111" stroke-width="1.3" />
<text transform="translate(439.65,419.9) scale(1.1600,1)" font-family="'Liberation Serif','Times New Roman',serif" font-size="9.8" font-weight="bold" fill="#111" stroke="#111" stroke-width="0.343" >1600</text>
<line x1="482.5" y1="407.4" x2="482.5" y2="404.4" stroke="#111" stroke-width="1.3" />
<text transform="translate(471.11,419.9) scale(1.1600,1)" font-family="'Liberation Serif','Times New Roman',serif" font-size="9.8" font-weight="bold" fill="#111" stroke="#111" stroke-width="0.343" >2000</text>
<line x1="513.74" y1="407.4" x2="513.74" y2="404.4" stroke="#111" stroke-width="1.3" />
<text transform="translate(502.35,419.9) scale(1.1600,1)" font-family="'Liberation Serif','Times New Roman',serif" font-size="9.8" font-weight="bold" fill="#111" stroke="#111" stroke-width="0.343" >2400</text>
<line x1="341.92" y1="407.4" x2="341.92" y2="405.4" stroke="#111" stroke-width="1.2" />
<line x1="373.16" y1="407.4" x2="373.16" y2="405.4" stroke="#111" stroke-width="1.2" />
<line x1="404.4" y1="407.4" x2="404.4" y2="405.4" stroke="#111" stroke-width="1.2" />
<line x1="435.64" y1="407.4" x2="435.64" y2="405.4" stroke="#111" stroke-width="1.2" />
<line x1="466.88" y1="407.4" x2="466.88" y2="405.4" stroke="#111" stroke-width="1.2" />
<line x1="498.12" y1="407.4" x2="498.12" y2="405.4" stroke="#111" stroke-width="1.2" />
<line x1="529.36" y1="407.4" x2="529.36" y2="405.4" stroke="#111" stroke-width="1.2" />
<text transform="translate(413.5,441.6) scale(1.1159,1)" font-family="'Liberation Serif','Times New Roman',serif" font-size="13.1" font-weight="bold" fill="#111" stroke="#111" stroke-width="0.459" >Δt (ns)</text>
<text transform="translate(302.3,346.8) rotate(-90) translate(-0.25,0) scale(1.1348,1)" font-family="'Liberation Serif','Times New Roman',serif" font-size="13.0" font-weight="bold" fill="#111" stroke="#111" stroke-width="0.455" >PPF (%)</text>
<text transform="translate(351.61,269) scale(1.0888,1)" font-family="'Liberation Sans',Arial,sans-serif" font-size="22.0" font-weight="bold" fill="#111" >(d)</text>
<polyline points="429.2,398.2 456.2,398.2 456.2,315.8 464.9,315.8 464.9,398.2 500.1,398.2 500.1,315.8 508.8,315.8 508.8,398.2 535.8,398.2" fill="none" stroke="#222" stroke-width="1.4" stroke-linejoin="miter" />
<line x1="469" y1="355.9" x2="496" y2="355.9" stroke="#222" stroke-width="1.2"/>
<path d="M465.4,355.9 L471.8,353.6 L470.8,355.9 L471.8,358.2 Z" fill="#222"/>
<path d="M499.6,355.9 L493.2,353.6 L494.2,355.9 L493.2,358.2 Z" fill="#222"/>
<text transform="translate(433.67,352) scale(0.9418,1)" font-family="'Liberation Serif','Times New Roman',serif" font-size="8.3" font-weight="bold" fill="#111" stroke="#111" stroke-width="0.291" >2.5V</text>
<text transform="translate(433.64,362) scale(1.0332,1)" font-family="'Liberation Serif','Times New Roman',serif" font-size="8.3" font-weight="bold" fill="#111" stroke="#111" stroke-width="0.291" >200ns</text>
<text transform="translate(478.9,354) scale(0.8954,1)" font-family="'Liberation Serif','Times New Roman',serif" font-size="8.3" font-weight="bold" fill="#111" stroke="#111" stroke-width="0.291" >Δt</text>
<text transform="translate(510.65,352) scale(1.0046,1)" font-family="'Liberation Serif','Times New Roman',serif" font-size="8.3" font-weight="bold" fill="#111" stroke="#111" stroke-width="0.291" >2.5V</text>
<text transform="translate(510.64,362) scale(1.0433,1)" font-family="'Liberation Serif','Times New Roman',serif" font-size="8.3" font-weight="bold" fill="#111" stroke="#111" stroke-width="0.291" >200ns</text>
<rect x="354.6" y="397.3" width="4.0" height="4.0" fill="none" stroke="#111" stroke-width="1.9"/>
<rect x="386.5" y="359.8" width="4.0" height="4.0" fill="none" stroke="#111" stroke-width="1.9"/>
<rect x="418" y="313.8" width="4.0" height="4.0" fill="none" stroke="#111" stroke-width="1.9"/>
<rect x="449.5" y="272.2" width="4.0" height="4.0" fill="none" stroke="#111" stroke-width="1.9"/>
<rect x="480.8" y="250.4" width="4.0" height="4.0" fill="none" stroke="#111" stroke-width="1.9"/>
<rect x="512.2" y="248.9" width="4.0" height="4.0" fill="none" stroke="#111" stroke-width="1.9"/>
<polyline points="357.4,404.85 359.16,401.51 360.93,398.23 362.69,395 364.46,391.82 366.22,388.69 367.98,385.6 369.75,382.56 371.51,379.57 373.28,376.63 375.04,373.73 376.8,370.88 378.57,368.06 380.33,365.3 382.1,362.57 383.86,359.89 385.62,357.25 387.39,354.65 389.15,352.09 390.92,349.56 392.68,347.08 394.44,344.64 396.21,342.23 397.97,339.86 399.74,337.53 401.5,335.23 403.27,332.97 405.03,330.74 406.79,328.55 408.56,326.39 410.32,324.26 412.09,322.17 413.85,320.11 415.61,318.08 417.38,316.08 419.14,314.11 420.91,312.17 422.67,310.26 424.43,308.39 426.2,306.54 427.96,304.72 429.73,302.92 431.49,301.16 433.25,299.42 435.02,297.71 436.78,296.02 438.55,294.36 440.31,292.73 442.07,291.12 443.84,289.54 445.6,287.98 447.37,286.44 449.13,284.93 450.89,283.44 452.66,281.98 454.42,280.53 456.19,279.11 457.95,277.71 459.71,276.34 461.48,274.98 463.24,273.65 465.01,272.33 466.77,271.04 468.53,269.76 470.3,268.51 472.06,267.27 473.83,266.05 475.59,264.85 477.36,263.68 479.12,262.51 480.88,261.37 482.65,260.24 484.41,259.14 486.18,258.04 487.94,256.97 489.7,255.91 491.47,254.87 493.23,253.84 495,252.83 496.76,251.84 498.52,250.86 500.29,249.89 502.05,248.94 503.82,248.01 505.58,247.09 507.34,246.18 509.11,245.29 510.87,244.41 512.64,243.55 514.4,242.69" fill="none" stroke="#f70d1a" stroke-width="2.8" stroke-linejoin="miter" stroke-linecap="round"/>
</svg></body></html>
